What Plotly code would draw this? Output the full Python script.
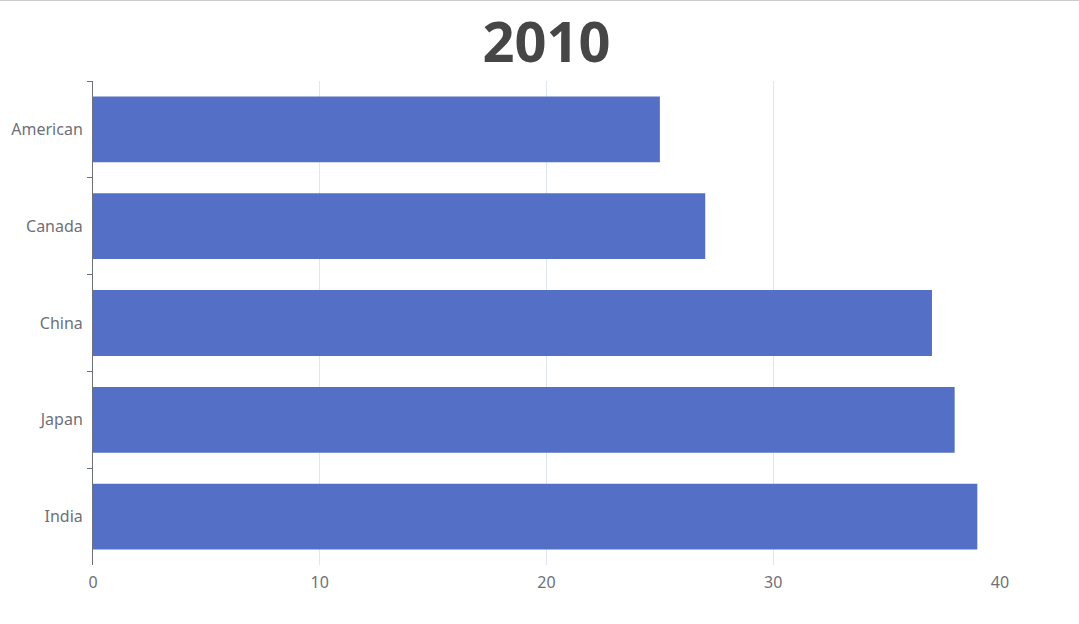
import plotly.graph_objects as go

categories = ["American", "Canada", "China", "Japan", "India"]
values = [25, 27, 37, 38, 39]
x_ticks = [0, 10, 20, 30, 40]
title_text = "2010"

W, H = 1079, 624
ml, mr, mt, mb = 93, 79, 81, 59
pw = W - ml - mr
ph = H - mt - mb

fig = go.Figure(go.Bar(
    x=values, y=categories, orientation="h",
    marker=dict(color="#5470c6", line=dict(width=0)),
    width=0.68,
))

fig.update_layout(
    width=W, height=H,
    margin=dict(l=ml, r=mr, t=mt, b=mb, pad=0),
    paper_bgcolor="white", plot_bgcolor="white",
    font=dict(family="Microsoft YaHei, Noto Sans, sans-serif", color="#6e7079", size=16),
    title=dict(text="<b>" + title_text + "</b>", x=(ml + pw / 2) / W, xanchor="center",
               y=1 - 42 / H, yanchor="middle",
               font=dict(size=56, color="#464646", family="Noto Sans, sans-serif")),
    showlegend=False,
    xaxis=dict(range=[0, 40], tickvals=x_ticks, showgrid=True, gridcolor="#e0e6f1",
               gridwidth=1, zeroline=False, showline=False, ticks="", ticklabelstandoff=6,
               tickfont=dict(size=16, color="#6e7079")),
    yaxis=dict(autorange="reversed", type="category", showline=True, linecolor="#6e7079",
               linewidth=1, ticks="outside", ticklen=5, tickcolor="#6e7079",
               tickson="boundaries", showgrid=False, zeroline=False,
               ticklabelstandoff=6, tickfont=dict(size=16, color="#6e7079")),
    shapes=[dict(type="line", xref="paper", yref="paper",
                 x0=-ml / pw, x1=(W - ml) / pw,
                 y0=(H - mb - 0.5) / ph, y1=(H - mb - 0.5) / ph,
                 line=dict(color="#cccccc", width=1))],
)

fig.write_html("out.html", config={"displayModeBar": False},
               post_script="document.body.style.margin='0';")
